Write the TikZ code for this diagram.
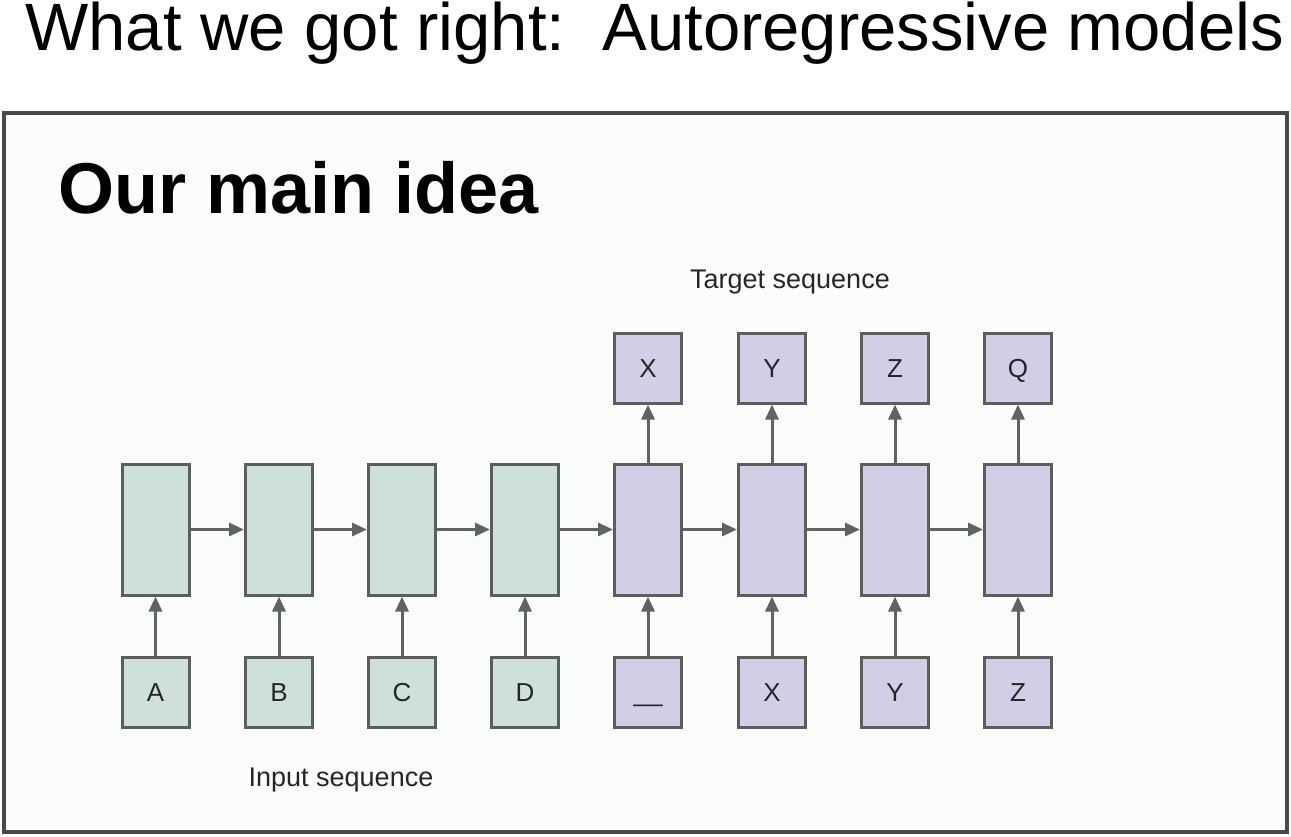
\documentclass[tikz,border=0pt]{standalone}
\usepackage{fontspec}
\setmainfont{Liberation Sans}
\usetikzlibrary{arrows.meta}
\definecolor{greenfill}{RGB}{206,224,219}
\definecolor{purplefill}{RGB}{209,206,230}
\definecolor{boxline}{RGB}{92,94,93}
\definecolor{arrowcol}{RGB}{95,99,97}
\definecolor{framecol}{RGB}{72,74,73}
\definecolor{panelfill}{RGB}{251,253,251}
\tikzset{
  cellbox/.style={draw=boxline, line width=1.5pt, minimum width=33.5pt, minimum height=65.5pt, inner sep=0pt},
  tokbox/.style={draw=boxline, line width=1.5pt, minimum width=33.5pt, minimum height=35pt, inner sep=0pt, text height=9.4pt, text depth=0pt, font=\fontsize{13}{15}\selectfont, text=black!85},
  enc/.style={fill=greenfill},
  dec/.style={fill=purplefill},
  flow/.style={draw=arrowcol, line width=1.5pt, -{Triangle[length=7.5pt,width=6.5pt]}},
  seqlabel/.style={font=\fontsize{13.5}{16}\selectfont, text=black!85, inner sep=0pt}
}
\begin{document}
\begin{tikzpicture}[x=0.5pt, y=-0.5pt]
\useasboundingbox (0,0) rectangle (1291,836);
\fill[white] (0,0) rectangle (1291,836);
\draw[framecol, line width=2pt, fill=panelfill] (4,113) rectangle (1287,832);
\node[anchor=base west, inner sep=0pt, font=\fontsize{33.5}{40}\selectfont] (title) at (25,50) {What we got right:\ \ Autoregressive models};
\node[anchor=base west, inner sep=0pt, font=\fontsize{36}{42}\selectfont\bfseries] (heading) at (58,213) {Our main idea};
\foreach \i/\x in {1/155.5,2/279,3/402,4/525,5/648,6/772,7/895,8/1018} {
  \ifnum\i<5
    \node[cellbox, enc] (c\i) at (\x,529.5) {};
  \else
    \node[cellbox, dec] (c\i) at (\x,529.5) {};
  \fi
}
\foreach \i/\t in {1/A,2/B,3/C,4/D} {
  \path (c\i) ++(0,162.5) node[tokbox, enc] (i\i) {\t};
}
\foreach \i/\t in {5/\symbol{95}\symbol{95},6/X,7/Y,8/Z} {
  \path (c\i) ++(0,162.5) node[tokbox, dec] (i\i) {\t};
}
\foreach \i/\t in {5/X,6/Y,7/Z,8/Q} {
  \path (c\i) ++(0,-161.5) node[tokbox, dec] (t\i) {\t};
}
\foreach \i [evaluate=\i as \j using int(\i+1)] in {1,...,7} {
  \draw[flow] (c\i.east) -- (c\j.west);
}
\foreach \i in {1,...,8} {
  \draw[flow] (i\i.north) -- (c\i.south);
}
\foreach \i in {5,...,8} {
  \draw[flow] (c\i.north) -- (t\i.south);
}
\node[seqlabel] (target) at (790,282) {Target sequence};
\node[seqlabel] (input) at (341,780) {Input sequence};
\end{tikzpicture}
\end{document}
